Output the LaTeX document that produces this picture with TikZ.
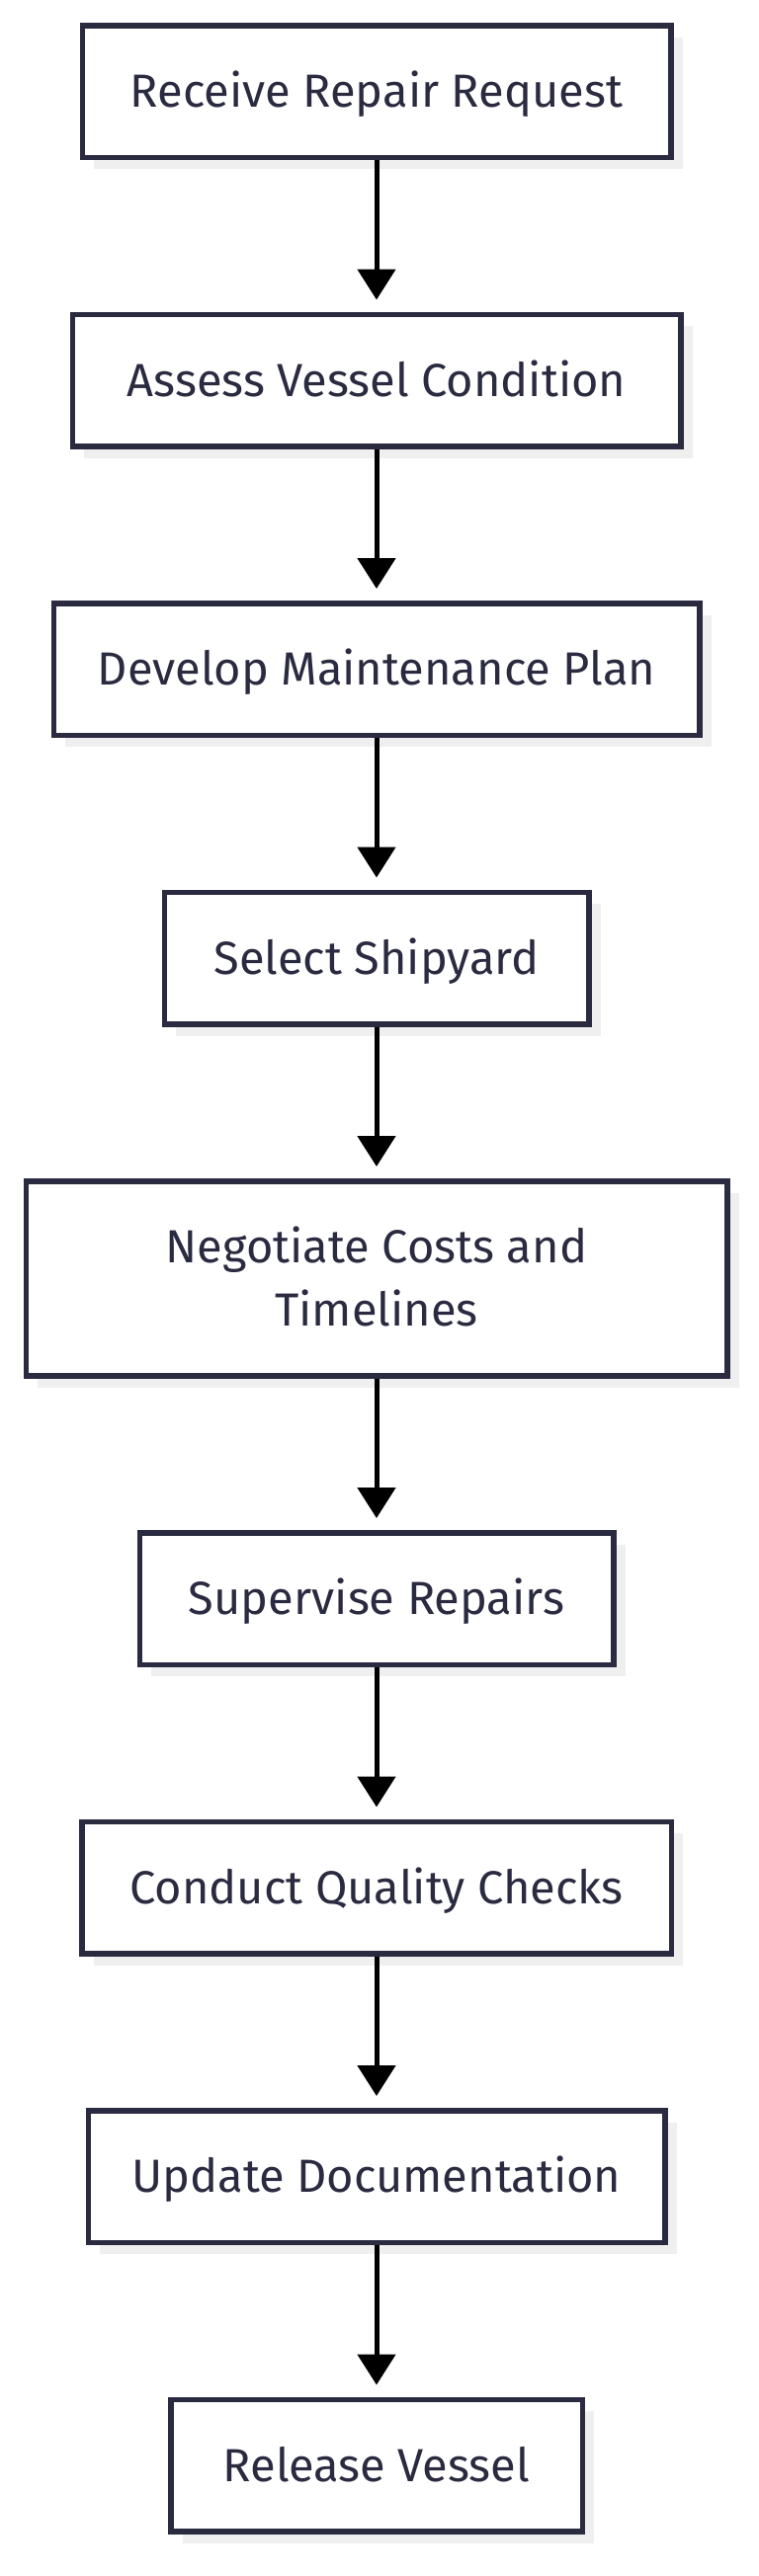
\documentclass[tikz,border=0pt]{standalone}
\usepackage{fontspec}
\setmainfont{Fira Sans}
\usetikzlibrary{arrows.meta,shadows}
\definecolor{ink}{HTML}{2A2A40}
\definecolor{shade}{HTML}{EFEFEF}
\begin{document}
\begin{tikzpicture}[x=1pt,y=-1pt,
  stepbox/.style={draw=ink, line width=5.5pt, fill=white, text=ink,
    font=\fontsize{47}{64}\selectfont, minimum height=133.5pt, inner sep=0pt, align=center,
    text height=32.4pt, text depth=0pt,
    drop shadow={shadow xshift=12pt, shadow yshift=-12pt, fill=shade, opacity=1}},
  flow/.style={line width=5pt, black, -{Triangle[length=31pt,width=38pt]}, shorten >=12pt}]
\useasboundingbox (0,0) rectangle (768,2608);
\node[stepbox, minimum width=595.5pt] (n1) at (381,92.5) {Receive Repair Request};
\node[stepbox, minimum width=615.5pt] (n2) at (381,385) {Assess Vessel Condition};
\node[stepbox, minimum width=653.5pt] (n3) at (381,677.5) {Develop Maintenance Plan};
\node[stepbox, minimum width=429.5pt] (n4) at (381,970) {Select Shipyard};
\node[stepbox, minimum width=709.5pt, minimum height=197pt, text height=96.4pt] (n5) at (381,1294.25) {Negotiate Costs and\\Timelines};
\node[stepbox, minimum width=479.5pt] (n6) at (381,1618.5) {Supervise Repairs};
\node[stepbox, minimum width=596.5pt] (n7) at (381,1911) {Conduct Quality Checks};
\node[stepbox, minimum width=583.5pt] (n8) at (381,2203.5) {Update Documentation};
\node[stepbox, minimum width=416.5pt] (n9) at (381,2496) {Release Vessel};
\draw[flow] (n1) -- (n2);
\draw[flow] (n2) -- (n3);
\draw[flow] (n3) -- (n4);
\draw[flow] (n4) -- (n5);
\draw[flow] (n5) -- (n6);
\draw[flow] (n6) -- (n7);
\draw[flow] (n7) -- (n8);
\draw[flow] (n8) -- (n9);
\end{tikzpicture}
\end{document}
